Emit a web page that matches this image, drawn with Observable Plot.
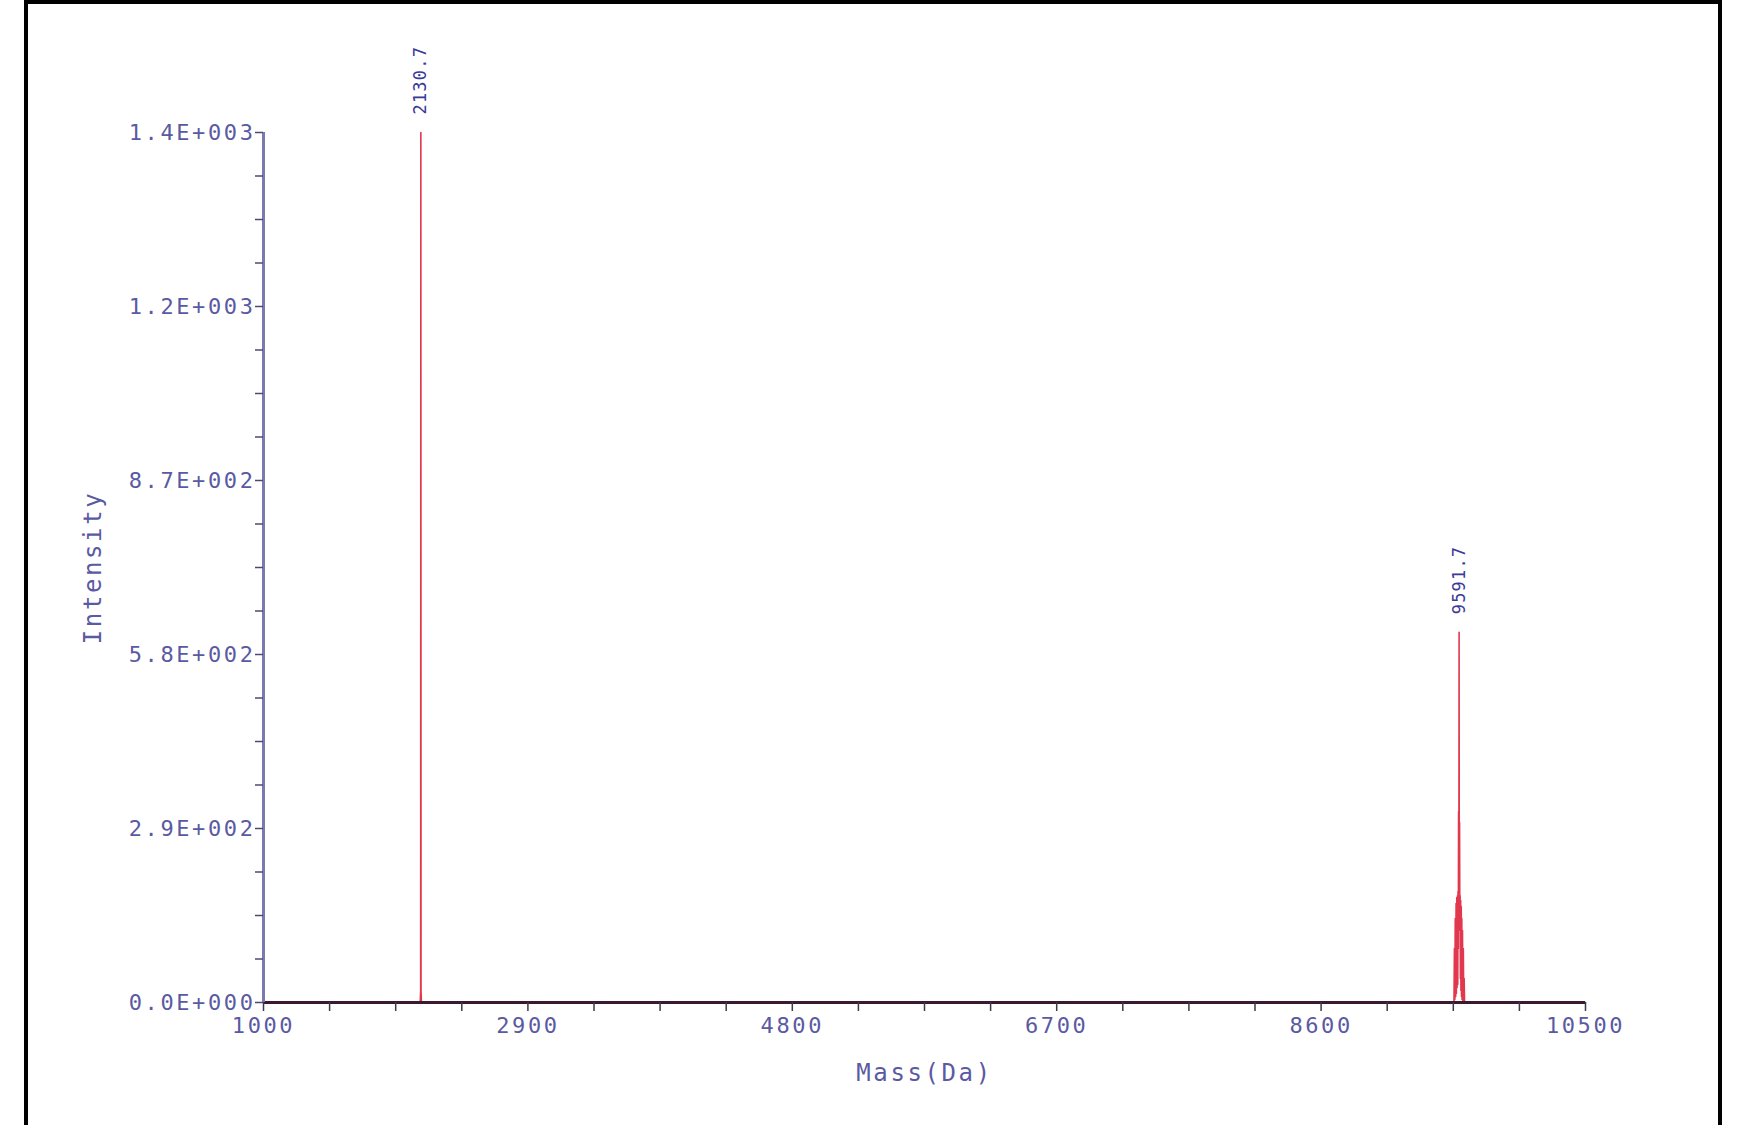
<!DOCTYPE html>
<html>
<head>
<meta charset="utf-8">
<script src="https://cdn.jsdelivr.net/npm/d3@7"></script>
<script src="https://cdn.jsdelivr.net/npm/@observablehq/plot@0.6"></script>
<style>
  html, body { margin: 0; padding: 0; background: #fff; width: 1749px; height: 1125px; overflow: hidden; }
  #frame { position: absolute; left: 24px; top: 0px; width: 1690px; height: 1140px; border: 4px solid #000; box-sizing: content-box; }
  #chart { position: absolute; left: 0; top: 0; }
  #chart svg text { letter-spacing: 2.6px; }
  #chart svg .peaklbl text { letter-spacing: 1.2px; }
</style>
</head>
<body>
<div id="frame"></div>
<div id="chart"></div>
<script>
// ---- data ----
const massDomain = [1000, 10500];
const intensityDomain = [0, 1450];

const xMajorTicks = [1000, 2900, 4800, 6700, 8600, 10500];
const xMinorTicks = [1475, 1950, 2425, 3375, 3850, 4325, 5275, 5750, 6225, 7175, 7650, 8125, 9075, 9550, 10025];
const yMajorTicks = [0, 290, 580, 870, 1160, 1450];
const yMajorLabels = ["0.0E+000", "2.9E+002", "5.8E+002", "8.7E+002", "1.2E+003", "1.4E+003"];
const yMinorTicks = [72.5, 145, 217.5, 362.5, 435, 507.5, 652.5, 725, 797.5, 942.5, 1015, 1087.5, 1232.5, 1305, 1377.5];

// spectrum trace (mass in Da, intensity)
const spectrumMass = [1000, 2126, 2129.5, 2130.7, 2131.9, 2135,
  9555, 9558, 9561, 9564, 9567, 9570, 9572, 9575, 9577, 9580, 9582, 9584, 9586, 9588, 9590, 9591.7,
  9593, 9595, 9597, 9599, 9601, 9603, 9605, 9607, 9609, 9611, 9613, 9616, 9619, 9622, 9625, 9628, 9631, 10500];
const spectrumIntensity = [0, 0, 20, 1450, 20, 0,
  0, 90, 5, 140, 10, 165, 15, 175, 25, 178, 30, 185, 90, 318, 200, 617,
  180, 300, 120, 178, 40, 170, 20, 160, 10, 140, 5, 120, 0, 90, 0, 40, 0, 0];

const peakMass = [2130.7, 9591.7];
const peakIntensity = [1450, 617];
const peakLabels = ["2130.7", "9591.7"];

const xLabel = "Mass(Da)";
const yLabel = "Intensity";

// ---- build ----
const spectrum = spectrumMass.map((m, i) => ({mass: m, intensity: spectrumIntensity[i]}));
const peaks = peakMass.map((m, i) => ({mass: m, intensity: peakIntensity[i], label: peakLabels[i]}));

const textColor = "#5a5aa2";
const fontFam = "'DejaVu Sans Mono', 'Liberation Mono', monospace";

const chart = Plot.plot({
  width: 1749,
  height: 1125,
  marginLeft: 263,
  marginRight: 164,
  marginTop: 132,
  marginBottom: 123,
  style: {fontFamily: fontFam, fontSize: "22px", background: "transparent", overflow: "visible"},
  x: {domain: massDomain, axis: null},
  y: {domain: intensityDomain, axis: null},
  marks: [
    // spectrum
    Plot.lineY(spectrum, {x: "mass", y: "intensity", stroke: "#e2384e", strokeWidth: 1.6, curve: "linear"}),
    // x axis line
    Plot.ruleY([0], {stroke: "#3a1a2c", strokeWidth: 3}),
    // y axis line
    Plot.ruleX([massDomain[0]], {stroke: "#7a7ab0", strokeWidth: 3}),
    // x ticks
    Plot.axisX({ticks: xMinorTicks, tickSize: 9, tickFormat: () => "", label: null, stroke: "#3a3a4a", strokeWidth: 1.5}),
    Plot.axisX({ticks: xMajorTicks, tickSize: 9, tickPadding: 6, tickFormat: d => String(d), label: null,
      color: textColor, stroke: "#3a3a4a", strokeWidth: 1.5, fontSize: 22}),
    // y ticks
    Plot.axisY({ticks: yMinorTicks, tickSize: 8, tickFormat: () => "", label: null, stroke: "#4a4a78", strokeWidth: 1.5}),
    Plot.axisY({ticks: yMajorTicks, tickSize: 8, tickPadding: 0, label: null,
      tickFormat: d => yMajorLabels[yMajorTicks.indexOf(d)],
      color: textColor, stroke: "#4a4a78", strokeWidth: 1.5, fontSize: 22}),
    // peak labels
    Plot.text(peaks, {x: "mass", y: "intensity", text: "label", rotate: -90, textAnchor: "start",
      dy: -18, fill: "#3a3a98", fontSize: 17, className: "peaklbl"}),
    // axis titles
    Plot.text([xLabel], {frameAnchor: "bottom", dy: 78, text: d => d, fill: textColor, fontSize: 24}),
    Plot.text([yLabel], {frameAnchor: "left", textAnchor: "middle", dx: -170, rotate: -90, text: d => d, fill: textColor, fontSize: 24})
  ]
});
document.getElementById("chart").appendChild(chart);
</script>
</body>
</html>
